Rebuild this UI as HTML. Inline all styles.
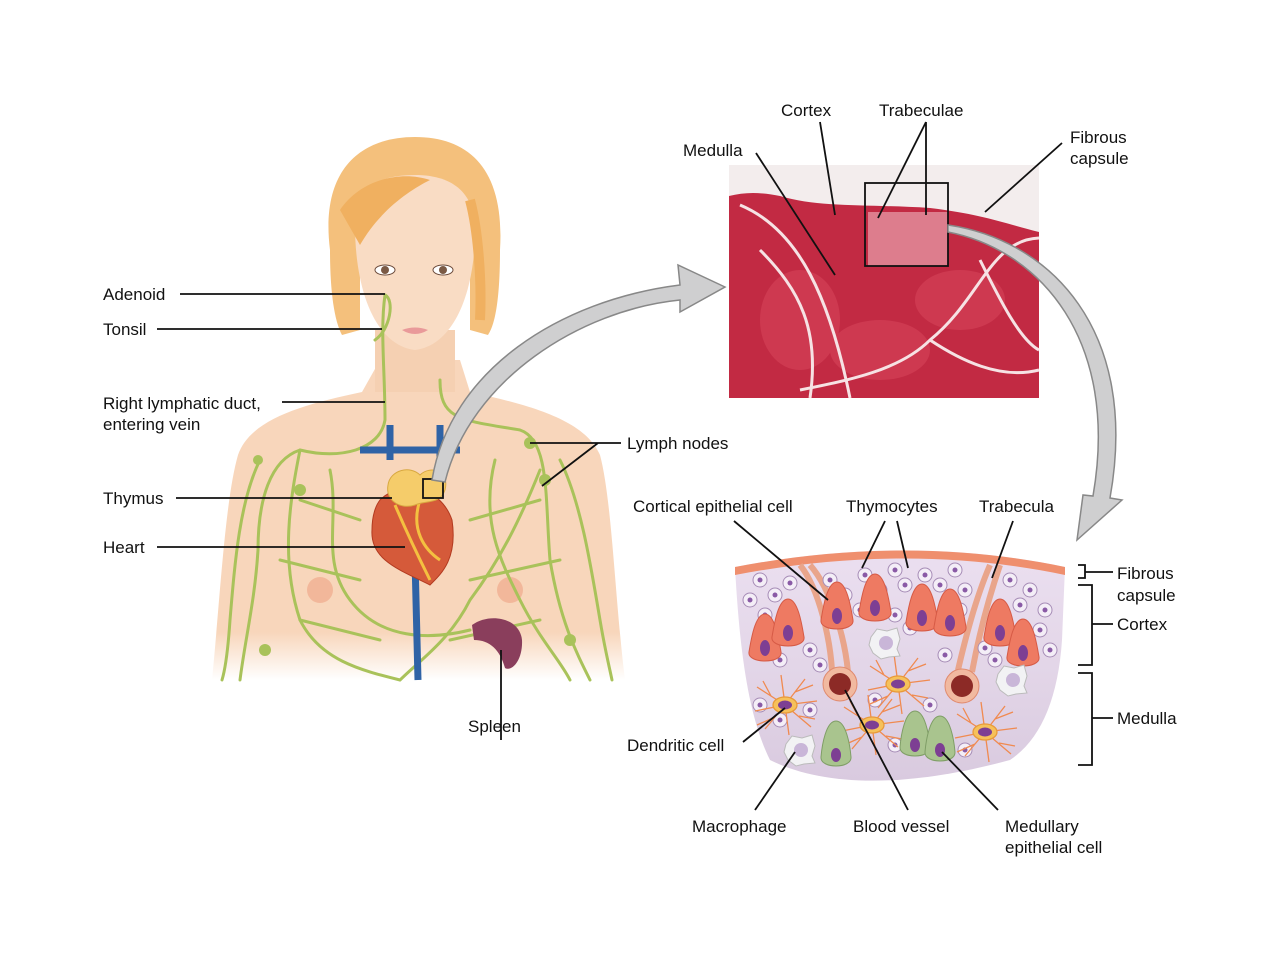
<!DOCTYPE html>
<html><head><meta charset="utf-8"><style>
html,body{margin:0;padding:0;background:#fff}
svg{display:block}
text{font-family:"Liberation Sans",sans-serif;font-size:17px;fill:#111}
</style></head><body>
<svg width="1284" height="960" viewBox="0 0 1284 960" xmlns="http://www.w3.org/2000/svg">
<defs>
<linearGradient id="skinfade" x1="0" y1="0" x2="0" y2="1">
<stop offset="0" stop-color="#f8d6bb"/><stop offset="0.85" stop-color="#f8d6bb"/><stop offset="1" stop-color="#f8d6bb" stop-opacity="0"/>
</linearGradient>
<linearGradient id="secfade" x1="0" y1="0" x2="0" y2="1">
<stop offset="0" stop-color="#ebdff0"/><stop offset="0.5" stop-color="#e3d6e8"/><stop offset="1" stop-color="#d9cadf"/>
</linearGradient>
<g id="tc"><circle r="7" fill="#f4eef7" stroke="#a68cb6" stroke-width="1"/><circle r="2.5" fill="#8a5aa6"/></g>
<g id="ec"><path d="M0,-26 C10,-26 14,0 16,12 C18,24 -18,24 -16,12 C-14,0 -10,-26 0,-26Z" fill="#ee7a62" stroke="#d65a45"/><ellipse cx="0" cy="8" rx="5" ry="8" fill="#7d3f93"/></g>
<g id="mc"><path d="M0,-24 C10,-24 14,0 15,12 C16,24 -16,24 -15,12 C-14,0 -10,-24 0,-24Z" fill="#a9c48e" stroke="#7f9e66"/><ellipse cx="0" cy="10" rx="5" ry="7" fill="#7d3f93"/></g>
<g id="dc" stroke="#f08a50" stroke-width="1.3" fill="none"><path d="M0,0 L-28,-18 M0,0 L-30,6 M0,0 L-20,24 M0,0 L4,30 M0,0 L26,22 M0,0 L32,-4 M0,0 L20,-26 M0,0 L-4,-30 M-14,-9 L-22,-24 M14,11 L30,14 M-10,12 L-28,20 M10,-13 L28,-20"/><ellipse rx="12" ry="8" fill="#f6c15a" stroke="#e89a3a"/><ellipse rx="7" ry="4.5" fill="#7d3f93" stroke="none"/></g>
<g id="mp"><path d="M-14,-6 L-8,-14 L2,-12 L12,-15 L15,-4 L12,6 L15,13 L4,14 L-4,16 L-12,10 L-16,2Z" fill="#f2f2f4" stroke="#bbb"/><circle cx="1" cy="0" r="7" fill="#c9b6d8"/></g>
</defs>

<!-- Woman body -->
<path d="M212,680 C220,600 225,500 238,455 C250,420 300,405 362,392 L380,360 L460,360 L470,392 C530,405 585,420 600,455 C612,500 615,600 625,680 Z" fill="url(#skinfade)"/>
<rect x="375" y="330" width="80" height="62" fill="#f5d0b2"/>
<!-- hair -->
<path d="M330,250 C320,170 360,137 415,137 C470,137 505,170 500,250 C500,300 495,325 488,335 L470,330 L470,230 L360,230 L360,330 L342,335 C334,320 330,290 330,250Z" fill="#f4c07c"/>
<!-- face -->
<path d="M355,225 C355,190 375,175 415,175 C455,175 475,195 475,230 C475,290 455,345 415,350 C375,345 355,290 355,225Z" fill="#f9dcc4"/>
<path d="M340,210 C360,180 400,170 430,180 C410,190 380,210 360,245Z" fill="#f0b060"/>
<path d="M470,200 C478,230 482,280 480,320" stroke="#f0b060" stroke-width="10" fill="none"/>
<ellipse cx="385" cy="270" rx="10" ry="5" fill="#fff" stroke="#6b4a3a"/><circle cx="385" cy="270" r="4" fill="#7b5a45"/>
<ellipse cx="443" cy="270" rx="10" ry="5" fill="#fff" stroke="#6b4a3a"/><circle cx="443" cy="270" r="4" fill="#7b5a45"/>
<path d="M402,330 Q415,325 428,330 Q415,338 402,330Z" fill="#e99a9a"/>
<circle cx="320" cy="590" r="13" fill="#f2b79a"/><circle cx="510" cy="590" r="13" fill="#f2b79a"/>
<!-- lymph network -->
<g stroke="#a9c25a" stroke-width="3" fill="none" stroke-linecap="round">
<path d="M385,295 C380,330 385,370 385,420 C380,450 340,460 300,450 C270,460 258,500 258,550 C255,600 245,640 240,680"/>
<path d="M440,380 C440,420 460,420 520,430 C550,440 545,500 550,560 C560,620 575,650 590,680"/>
<path d="M300,450 C290,500 280,560 300,620 C320,660 360,670 400,680"/>
<path d="M540,470 C520,520 500,560 470,600 C450,640 420,660 400,680"/>
<path d="M260,460 C240,500 235,560 230,620 C228,650 225,670 222,680"/>
<path d="M560,460 C580,500 590,560 600,620 C605,650 610,670 612,680"/>
<path d="M330,470 C340,520 320,560 350,600 C380,640 430,640 470,630"/>
<path d="M495,460 C480,520 500,560 520,600 C540,640 560,660 570,680"/>
<path d="M300,500 L360,520 M470,520 L540,500 M280,560 L360,580 M470,580 L560,560 M300,620 L380,640 M450,640 L540,620"/>
<path d="M385,295 C395,300 390,330 375,340"/>
</g>
<g fill="#a9c25a"><circle cx="300" cy="490" r="6"/><circle cx="530" cy="443" r="6"/><circle cx="545" cy="480" r="6"/><circle cx="258" cy="460" r="5"/><circle cx="265" cy="650" r="6"/><circle cx="570" cy="640" r="6"/></g>
<path d="M390,425 L390,460 M440,425 L440,460 M360,450 L460,450 M415,560 L418,680" stroke="#2f63a6" stroke-width="7" fill="none"/>
<path d="M380,500 C400,480 440,485 452,520 C458,560 440,575 430,585 C400,570 370,560 372,530 C372,515 376,505 380,500Z" fill="#d55a3a" stroke="#b23a20"/>
<path d="M395,505 C410,540 420,560 430,580 M420,500 C410,530 425,550 440,560" stroke="#f4c040" stroke-width="3" fill="none"/>
<path d="M388,485 C390,470 410,465 420,475 C430,465 450,470 445,490 C440,505 425,500 415,505 C400,510 385,500 388,485Z" fill="#f5cc6a" stroke="#d8a840"/>
<path d="M472,625 C490,612 520,618 522,640 C523,660 512,672 505,668 C500,650 490,640 474,640Z" fill="#8a3e5c"/>
<rect x="423" y="479" width="20" height="19" fill="none" stroke="#111" stroke-width="1.8"/>

<path d="M432,480 C450,370 560,300 680,285 L678,265 L725,287 L680,312 L680,300 C580,310 470,380 445,482Z" fill="#cfcfd0" stroke="#888" stroke-width="1.5"/>
<!-- histology -->
<rect x="729" y="165" width="310" height="233" fill="#c22a43"/>
<path d="M729,165 L1039,165 L1039,232 C1000,222 980,214 930,208 C870,204 820,208 780,196 C760,192 745,192 729,196Z" fill="#f3eded"/>
<g fill="#d6445a" opacity="0.6"><ellipse cx="800" cy="320" rx="40" ry="50"/><ellipse cx="960" cy="300" rx="45" ry="30"/><ellipse cx="880" cy="350" rx="50" ry="30"/></g>
<g stroke="#f6e2e4" stroke-width="3" fill="none">
<path d="M740,205 C800,230 830,300 850,398"/><path d="M760,250 C800,290 820,330 810,398"/>
<path d="M1039,238 C990,240 980,300 930,340 C900,370 850,380 800,390"/>
<path d="M980,260 C1000,300 1020,340 1039,350"/>
<path d="M930,340 C960,360 1000,380 1039,370"/>
</g>
<rect x="868" y="212" width="80" height="54" fill="#e59aa6" opacity="0.75"/>
<rect x="865" y="183" width="83" height="83" fill="none" stroke="#111" stroke-width="1.8"/>
<path d="M948,225 C1050,240 1140,330 1110,498 L1122,500 L1077,540 L1083,495 L1093,496 C1120,340 1040,250 948,232Z" fill="#cfcfd0" stroke="#888" stroke-width="1.5"/>

<!-- cross section -->
<path d="M735,567 C850,545 960,545 1065,567 L1062,640 C1058,700 1040,740 1010,760 C900,790 820,785 770,760 C750,720 740,660 735,567Z" fill="url(#secfade)"/>
<path d="M735,567 C850,545 960,545 1065,567 L1065,575 C960,553 850,553 735,575Z" fill="#ef8f6e"/>
<path d="M800,565 C820,590 830,640 832,670 M810,565 C832,590 845,640 848,672" stroke="#e9a58b" stroke-width="6" fill="none"/>
<path d="M990,565 C975,600 965,640 958,670 M1000,565 C988,600 978,640 972,672" stroke="#e9a58b" stroke-width="6" fill="none"/>
<circle cx="840" cy="684" r="17" fill="#f1b9a0" stroke="#e08a6e"/><circle cx="840" cy="684" r="11" fill="#8c2a26"/>
<circle cx="962" cy="686" r="17" fill="#f1b9a0" stroke="#e08a6e"/><circle cx="962" cy="686" r="11" fill="#8c2a26"/>
<g>
<use href="#tc" x="760" y="580"/><use href="#tc" x="775" y="595"/><use href="#tc" x="750" y="600"/><use href="#tc" x="765" y="615"/><use href="#tc" x="790" y="583"/>
<use href="#tc" x="830" y="580"/><use href="#tc" x="845" y="595"/><use href="#tc" x="860" y="610"/><use href="#tc" x="865" y="575"/><use href="#tc" x="880" y="590"/>
<use href="#tc" x="895" y="570"/><use href="#tc" x="905" y="585"/><use href="#tc" x="925" y="575"/><use href="#tc" x="940" y="585"/><use href="#tc" x="955" y="570"/>
<use href="#tc" x="965" y="590"/><use href="#tc" x="960" y="610"/><use href="#tc" x="1010" y="580"/><use href="#tc" x="1030" y="590"/><use href="#tc" x="1045" y="610"/>
<use href="#tc" x="1020" y="605"/><use href="#tc" x="1040" y="630"/><use href="#tc" x="1050" y="650"/><use href="#tc" x="995" y="660"/><use href="#tc" x="985" y="648"/>
<use href="#tc" x="810" y="650"/><use href="#tc" x="820" y="665"/><use href="#tc" x="780" y="660"/><use href="#tc" x="880" y="640"/><use href="#tc" x="945" y="655"/>
<use href="#tc" x="895" y="615"/><use href="#tc" x="910" y="628"/><use href="#tc" x="875" y="700"/><use href="#tc" x="930" y="705"/><use href="#tc" x="810" y="710"/>
<use href="#tc" x="760" y="705"/><use href="#tc" x="780" y="720"/><use href="#tc" x="895" y="745"/><use href="#tc" x="965" y="750"/><use href="#tc" x="935" y="740"/>
</g>
<use href="#ec" x="765" y="640"/><use href="#ec" x="788" y="625"/><use href="#ec" x="837" y="608"/><use href="#ec" x="875" y="600"/>
<use href="#ec" x="922" y="610"/><use href="#ec" x="950" y="615"/><use href="#ec" x="1000" y="625"/><use href="#ec" x="1023" y="645"/>
<use href="#dc" x="785" y="705"/><use href="#dc" x="898" y="684"/><use href="#dc" x="872" y="725"/><use href="#dc" x="985" y="732"/>
<use href="#mc" x="836" y="745"/><use href="#mc" x="915" y="735"/><use href="#mc" x="940" y="740"/>
<use href="#mp" x="885" y="643"/><use href="#mp" x="1012" y="680"/><use href="#mp" x="800" y="750"/>

<g stroke="#111" stroke-width="1.8" fill="none">
<path d="M180,294 L385,294"/><path d="M157,329 L382,329"/><path d="M282,402 L385,402"/>
<path d="M176,498 L392,498"/><path d="M157,547 L405,547"/>
<path d="M621,443 L598,443 L530,443 M598,443 L542,486"/>
<path d="M501,740 L501,650"/>
<path d="M756,153 L835,275"/><path d="M820,122 L835,215"/><path d="M926,122 L878,218 M926,122 L926,215"/>
<path d="M1062,143 L985,212"/>
<path d="M734,521 L828,600"/><path d="M885,521 L862,568 M897,521 L908,568"/><path d="M1013,521 L992,578"/>
<path d="M1078,565 L1085,565 L1085,578 L1078,578 M1085,572 L1113,572"/>
<path d="M1078,585 L1092,585 L1092,665 L1078,665 M1092,624 L1113,624"/>
<path d="M1078,673 L1092,673 L1092,765 L1078,765 M1092,718 L1113,718"/>
<path d="M743,742 L785,708"/><path d="M755,810 L795,752"/><path d="M908,810 L845,690"/><path d="M998,810 L942,752"/>
</g>
<text x="103" y="300">Adenoid</text>
<text x="103" y="335">Tonsil</text>
<text x="103" y="409">Right lymphatic duct,</text>
<text x="103" y="430">entering vein</text>
<text x="103" y="504">Thymus</text>
<text x="103" y="553">Heart</text>
<text x="627" y="449">Lymph nodes</text>
<text x="468" y="732">Spleen</text>
<text x="781" y="116">Cortex</text>
<text x="879" y="116">Trabeculae</text>
<text x="683" y="156">Medulla</text>
<text x="1070" y="143">Fibrous</text>
<text x="1070" y="164">capsule</text>
<text x="633" y="512">Cortical epithelial cell</text>
<text x="846" y="512">Thymocytes</text>
<text x="979" y="512">Trabecula</text>
<text x="1117" y="579">Fibrous</text>
<text x="1117" y="601">capsule</text>
<text x="1117" y="630">Cortex</text>
<text x="1117" y="724">Medulla</text>
<text x="627" y="751">Dendritic cell</text>
<text x="692" y="832">Macrophage</text>
<text x="853" y="832">Blood vessel</text>
<text x="1005" y="832">Medullary</text>
<text x="1005" y="853">epithelial cell</text>
</svg>
</body></html>
